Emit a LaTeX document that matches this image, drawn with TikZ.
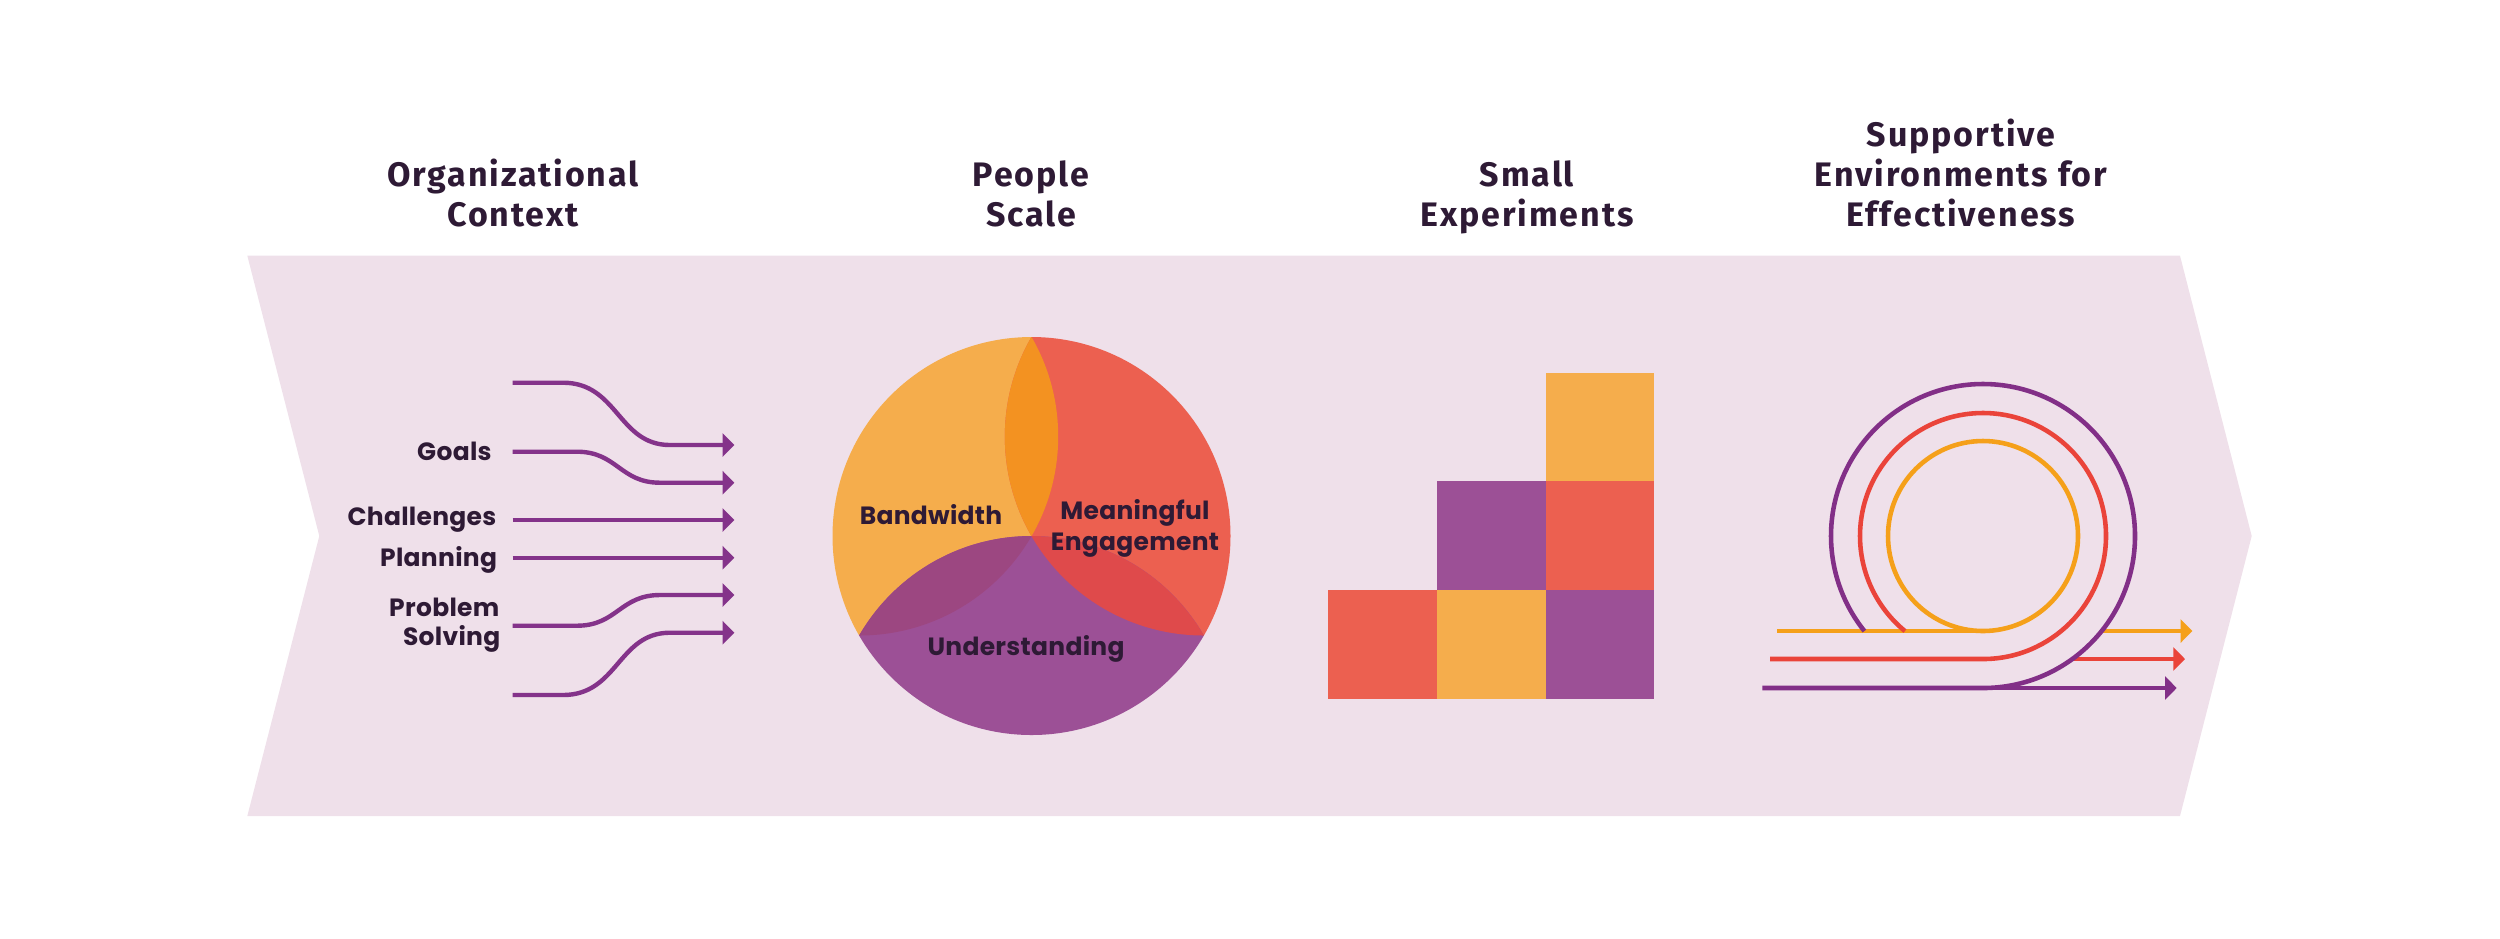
\documentclass[tikz,border=0pt]{standalone}
\usepackage{fontspec}
\usetikzlibrary{arrows.meta}
\setmainfont{Poppins}
\newfontfamily\titlefont{Fira Sans}[LetterSpace=5.6]
\newfontfamily\lblfont{Poppins}[LetterSpace=1.2]
\definecolor{bgpink}{HTML}{EFE0EA}
\definecolor{ink}{HTML}{2E1A35}
\definecolor{vorange}{HTML}{F5AD4C}
\definecolor{vred}{HTML}{EC6050}
\definecolor{vpurple}{HTML}{9C5096}
\definecolor{vlensOR}{HTML}{F39221}
\definecolor{vlensOP}{HTML}{9C4781}
\definecolor{vlensRP}{HTML}{DF4A4B}
\definecolor{lorange}{HTML}{F5A01A}
\definecolor{lred}{HTML}{EA443A}
\definecolor{lpurple}{HTML}{822F87}
\definecolor{apurple}{HTML}{84338A}
\tikzset{
  titletext/.style={font=\titlefont\bfseries\fontsize{9.66pt}{11.24pt}\selectfont, text=ink, inner sep=0pt, align=center},
  lbltext/.style={font=\lblfont\bfseries\fontsize{7.1pt}{8.3pt}\selectfont, text=ink, inner sep=0pt},
  flow/.style={draw=apurple, line width=1.25pt, -{Triangle[length=3.3pt,width=6.5pt]}},
  loopline/.style={line width=1.3pt},
  looparrow/.style={line width=1.3pt, -{Triangle[length=3.3pt,width=6.5pt]}},
}
\begin{document}
\begin{tikzpicture}[x=0.01cm,y=-0.01cm]
\useasboundingbox (0,0) rectangle (2500,938);
% chevron band
\fill[bgpink] (247.3,255.7) -- (2180,255.7) -- (2251.7,536) -- (2180,816) -- (247.3,816) -- (319.3,536) -- cycle;

% titles (base anchor = baseline of last line)
\node[titletext, anchor=base] (t1) at (513,226) {Organizational\\Context};
\node[titletext, anchor=base] (t2) at (1031,226) {People\\Scale};
\node[titletext, anchor=base] (t3) at (1527,226) {Small\\Experiments};
\node[titletext, anchor=base] (t4) at (1961,226) {Supportive\\Environments for\\Effectiveness};

% left arrows
\coordinate (s1) at (512.7,382.7); \coordinate (e1) at (734.3,445);
\coordinate (s2) at (512.7,451.7); \coordinate (e2) at (734.3,482.7);
\coordinate (s3) at (512.7,520);   \coordinate (e3) at (734.3,520);
\coordinate (s4) at (512.7,557.7); \coordinate (e4) at (734.3,557.7);
\coordinate (s5) at (512.7,625.7); \coordinate (e5) at (734.3,595);
\coordinate (s6) at (512.7,695);   \coordinate (e6) at (734.3,632.7);
\draw[flow] (s1) -- ++(50.3,0) .. controls +(55,0) and +(-52,0) .. ++(107,62.3) -- (e1);
\draw[flow] (s2) -- ++(64.3,0) .. controls +(40,0) and +(-40,0) .. ++(83,31) -- (e2);
\draw[flow] (s3) -- (e3);
\draw[flow] (s4) -- (e4);
\draw[flow] (s5) -- ++(64.3,0) .. controls +(40,0) and +(-40,0) .. ++(83,-30.7) -- (e5);
\draw[flow] (s6) -- ++(50.3,0) .. controls +(55,0) and +(-52,0) .. ++(107,-62.3) -- (e6);

\node[lbltext, anchor=base east] (goals) at (492.3,460) {Goals};
\node[lbltext, anchor=base east] (chal) at (497,525.7) {Challenges};
\node[lbltext, anchor=base east] (plan) at (497.7,566) {Planning};
\node[lbltext, anchor=base east] (prob) at (500,616) {Problem};
\node[lbltext, anchor=base east] (solv) at (501,645) {Solving};

% venn
\coordinate (C) at (1031.5,536);
\coordinate (cA) at (859.2,436.5);
\coordinate (cB) at (1203.8,436.5);
\coordinate (cP) at (1031.5,735);
\begin{scope}
  \clip (C) circle[radius=199];
  \fill[vorange] (cA) circle[radius=199];
  \fill[vred] (cB) circle[radius=199];
  \begin{scope}
    \clip (cA) circle[radius=199];
    \fill[vlensOR] (cB) circle[radius=199];
  \end{scope}
  \fill[vpurple] (cP) circle[radius=199];
  \begin{scope}
    \clip (cP) circle[radius=199];
    \fill[vlensOP] (cA) circle[radius=199];
    \fill[vlensRP] (cB) circle[radius=199];
  \end{scope}
\end{scope}
\node[lbltext, anchor=base] (bw) at (931,524) {Bandwidth};
\node[lbltext, anchor=base] (me1) at (1135,519) {Meaningful};
\node[lbltext, anchor=base] (me2) at (1135,550) {Engagement};
\node[lbltext, anchor=base] (und) at (1026,655) {Understanding};

% squares
\fill[vred]    (1328.3,590) rectangle (1437,699);
\fill[vorange] (1437,590) rectangle (1545.7,699);
\fill[vpurple] (1545.7,590) rectangle (1654.3,699);
\fill[vpurple] (1437,481.3) rectangle (1545.7,590);
\fill[vred]    (1545.7,481.3) rectangle (1654.3,590);
\fill[vorange] (1545.7,373) rectangle (1654.3,481.3);

% loop
\coordinate (L) at (1983,536);
\coordinate (ob) at (1983,631);
\coordinate (rb) at (1983,659);
\coordinate (pb) at (1983,688);
% orange
\draw[loopline, lorange] (1777.3,631) -- (ob);
\draw[loopline, lorange] (L) circle[radius=95];
\draw[looparrow, lorange] (2101.7,631) -- (2192.3,631);
% red
\draw[loopline, lred] (1770,659) -- (rb) arc[start angle=90, end angle=-230.6, radius=123];
\draw[looparrow, lred] (2072.3,659) -- (2185,659);
% purple
\draw[loopline, lpurple] (1762.3,688) -- (pb) arc[start angle=90, end angle=-218.7, radius=152];
\draw[looparrow, lpurple] (pb) -- (2176.7,688);
\end{tikzpicture}
\end{document}
